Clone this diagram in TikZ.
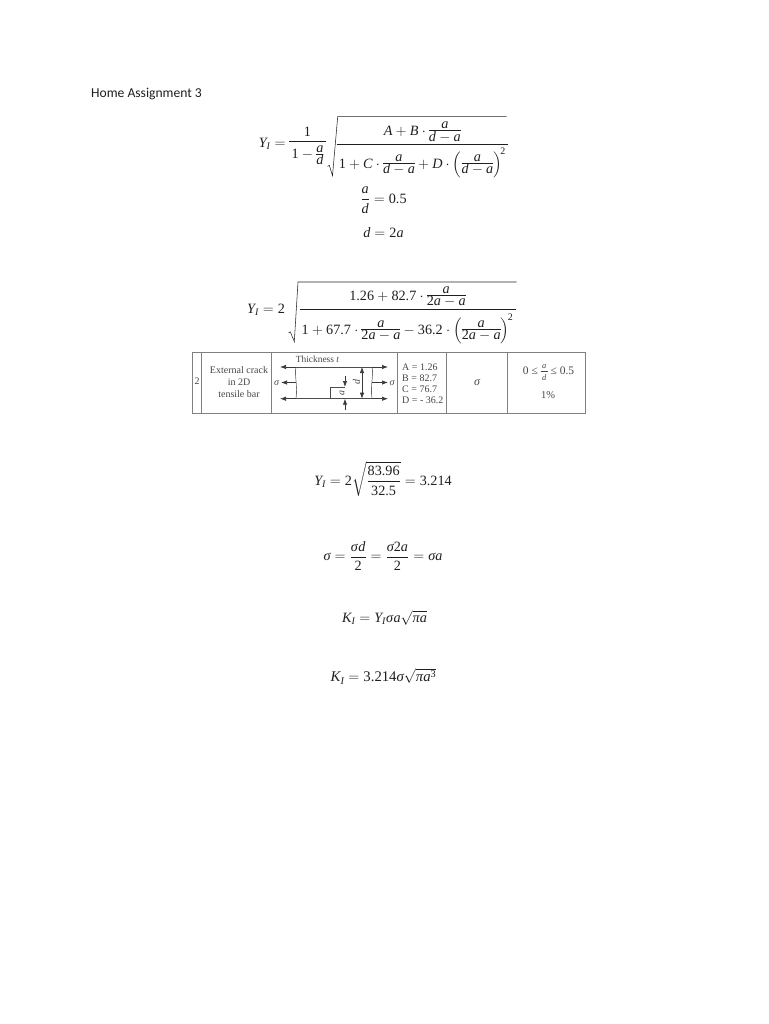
\documentclass[tikz,border=0pt]{standalone}
\usepackage{amsmath}
\usepackage{fontspec}
\setmainfont{Carlito}
\newfontfamily\tabfont{Liberation Serif}
\newfontfamily\eqfont[Scale=1.06]{Liberation Serif}
\newcommand{\mi}[1]{\text{\eqfont\itshape #1}}
\newcommand{\mn}[1]{\text{\eqfont #1}}
% compact fractions
\newcommand{\cf}[2]{{\vcenter{\offinterlineskip\halign{\hfil$\displaystyle##$\hfil\cr\rule[-1pt]{0pt}{9pt}#1\cr\noalign{\kern0.6pt\hrule height 0.5pt\kern0.8pt}\rule[-2pt]{0pt}{9pt}#2\cr}}}}
\newcommand{\cfm}[3]{{\vcenter{\offinterlineskip\halign{\hfil\,$\displaystyle##$\,\hfil\cr#2\cr\noalign{\kern1.2pt\hrule height 0.5pt\kern#1}#3\cr}}}}
\newcommand{\aoverb}[1]{\cf{\mi{a}}{#1}}
\usetikzlibrary{arrows.meta}
\tikzset{
  eq/.style={inner sep=0pt,outer sep=0pt,text=black!88,font=\fontsize{13.4}{16}\selectfont},
  tabtext/.style={inner sep=0pt,align=center,text=black!72,font=\tabfont\fontsize{10}{12.4}\selectfont},
  rule/.style={draw=black!50,line width=1pt},
  bar/.style={draw=black!70,line width=1pt},
  thin/.style={draw=black!60,line width=0.6pt},
  radical/.style={draw=black!85,line width=0.55pt,line join=miter},
  arr/.style={draw=black!78,line width=0.7pt,-{Latex[length=6pt,width=4.4pt]}},
  arrs/.style={draw=black!78,line width=0.7pt,{Latex[length=6pt,width=4.4pt]}-{Latex[length=6pt,width=4.4pt]}}
}
\begin{document}
\begin{tikzpicture}[x=1pt,y=-1pt]
\useasboundingbox[fill=white] (0,0) rectangle (768,1024);
\node[inner sep=0pt,anchor=base west,font=\fontsize{13.6}{16}\selectfont,text=black!88] (title) at (91,98) {Home Assignment 3};
% first formula
\node[eq,anchor=base east] (eqAy) at (285.5,147.7) {$\mi{Y}_{\mi{I}}=$};
\node[eq,anchor=base] (eqAl) at (307.5,150.6) {$\displaystyle \cfm{2.2pt}{\rule[-3.5pt]{0pt}{10pt}\mn{1}}{\mn{1}-\cf{\mi{a}}{\mi{d}}}$};
\node[eq,anchor=base] (eqAr) at (422.3,152.5) {$\displaystyle \cfm{3.5pt}{\mi{A}+\mi{B}\cdot\aoverb{\mi{d}-\mi{a}}}{\mn{1}+\mi{C}\cdot\aoverb{\mi{d}-\mi{a}}+\mi{D}\cdot\left(\aoverb{\mi{d}-\mi{a}}\right)^{\!\mn{2}}}$};
\coordinate (ra0) at (327.5,166.5); \coordinate (ra1) at (329.3,165.3); \coordinate (ra2) at (332.5,175.7); \coordinate (ra3) at (337.7,116.7); \coordinate (ra4) at (506.7,116.7);
\draw[radical] (ra0) -- (ra1) -- (ra2) -- (ra3) -- (ra4);
\node[eq] (eqB) at (383.5,200) {$\displaystyle \dfrac{\mi{a}}{\mi{d}}=\mn{0.5}$};
\node[eq] (eqC) at (383.5,233) {$\mi{d}=\mn{2}\mi{a}$};
% second formula
\node[eq,anchor=base east] (eqDl) at (285,313.4) {$\displaystyle \mi{Y}_{\mi{I}}=\mn{2}$};
\node[eq,anchor=base] (eqDr) at (407.5,318.2) {$\displaystyle \cfm{4.5pt}{\mn{1.26}+\mn{82.7}\cdot\aoverb{\mn{2}\mi{a}-\mi{a}}}{\mn{1}+\mn{67.7}\cdot\aoverb{\mn{2}\mi{a}-\mi{a}}-\mn{36.2}\cdot\left(\aoverb{\mn{2}\mi{a}-\mi{a}}\right)^{\!\mn{2}}}$};
\coordinate (rd0) at (288.5,333); \coordinate (rd1) at (290.3,331.8); \coordinate (rd2) at (294.3,341.7); \coordinate (rd3) at (298,282); \coordinate (rd4) at (516.7,282);
\draw[radical] (rd0) -- (rd1) -- (rd2) -- (rd3) -- (rd4);
\node[eq] (eqE) at (383,479) {$\displaystyle \mi{Y}_{\mi{I}}=\mn{2}\sqrt{\dfrac{\mn{83.96}}{\mn{32.5}}}=\mn{3.214}$};
\node[eq] (eqF) at (383,556) {$\displaystyle \mi{σ}=\dfrac{\mi{σ}\kern0.6pt\mi{d}}{\mn{2}}=\dfrac{\mi{σ}\mn{2}\mi{a}}{\mn{2}}=\mi{σa}$};
\node[eq] (eqG) at (384.5,618) {$\mi{K}_{\mi{I}}=\mi{Y}_{\mi{I}}\mi{σ}\kern0.6pt\mi{a}\sqrt{\mi{πa}}$};
\node[eq,font=\fontsize{13.9}{16}\selectfont] (eqH) at (383.5,676) {$\mi{K}_{\mi{I}}=\mn{3.214}\mi{σ}\sqrt{\mi{πa}^{\mn{3}}}$};

% table
\draw[rule] (192,352) -- (586,352);
\draw[rule] (192,413.5) -- (586,413.5);
\foreach \xx in {192.3,201.7,271,397.7,446.7,507,585.5}{\draw[rule] (\xx,352) -- (\xx,413.5);}
\node[tabtext] (tn) at (197,381) {2};
\node[tabtext] (tcrack) at (239,382) {External crack\\in 2D\\tensile bar};
\node[tabtext,anchor=west,align=left,font=\tabfont\fontsize{10}{10.9}\selectfont] (tcoef) at (402,384) {A = 1.26\\B = 82.7\\C = 76.7\\D = - 36.2};
\node[tabtext,font=\tabfont\itshape\fontsize{12}{12}\selectfont] (tsig) at (477,382.5) {σ};
\node[tabtext,font=\tabfont\fontsize{11.5}{12}\selectfont] (trange) at (548.5,372.5) {0 ≤ \raisebox{-1.05ex}{\shortstack{\fontsize{8.5}{7.5}\selectfont\itshape a\\[-0.5pt]\rule{7pt}{0.4pt}\\[-0.5pt]\fontsize{8.5}{7.5}\selectfont\itshape d}} ≤ 0.5};
\node[tabtext,font=\tabfont\fontsize{10.5}{12}\selectfont] (tpct) at (548,395) {1\%};
\node[tabtext,font=\tabfont\fontsize{9.4}{11}\selectfont] (tthick) at (317.5,359.5) {Thickness \textit{t}};

% bar sketch
\coordinate (tl) at (296,367); \coordinate (tr) at (372,367);
\coordinate (bl) at (296,398.7); \coordinate (br) at (372,398.7);
\coordinate (n1) at (330,398.7); \coordinate (n2) at (330,387); \coordinate (n3) at (345,387); \coordinate (n4) at (345,398.7);
\draw[bar] (tl) -- (tr);
\draw[bar] (bl) -- (br);
\draw[bar] (n1) -- (n2) -- (n3);
\draw[thin] (tl) .. controls (294,375) and (298,385) .. (bl);
\draw[thin] (tr) .. controls (374,375) and (370,385) .. (br);
\coordinate (atl) at (280,367); \coordinate (atr) at (388,367);
\coordinate (abl) at (280,398.7); \coordinate (abr) at (388,398.7);
\coordinate (aml) at (281,382.5); \coordinate (amr) at (388,382.5);
\coordinate (ml) at (296,382.5); \coordinate (mr) at (372,382.5);
\draw[arr] (tl) -- (atl);
\draw[arr] (tr) -- (atr);
\draw[arr] (bl) -- (abl);
\draw[arr] (br) -- (abr);
\draw[arr] (ml) -- (aml);
\draw[arr] (mr) -- (amr);
\node[tabtext,font=\tabfont\itshape\fontsize{10}{12}\selectfont] (sl) at (276.5,382.5) {σ};
\node[tabtext,font=\tabfont\itshape\fontsize{10}{12}\selectfont] (sr) at (392,382.5) {σ};
\coordinate (d1) at (362,367); \coordinate (d2) at (362,398.7);
\draw[arrs] (d1) -- (d2);
\node[tabtext,rotate=90] (dl) at (356.5,382) {\textit{d}};
\coordinate (a0) at (345,376); \coordinate (a3) at (345,410);
\draw[arr] (a0) -- (n3);
\draw[arr] (a3) -- (n4);
\node[tabtext,rotate=90] (al) at (342,393) {\textit{a}};
\end{tikzpicture}
\end{document}
